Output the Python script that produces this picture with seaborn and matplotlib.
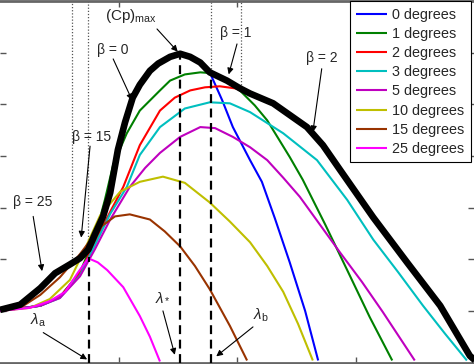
import matplotlib
matplotlib.use("Agg")
import matplotlib.pyplot as plt
import seaborn as sns
import pandas as pd

# ---------------- data (tip speed ratio lambda, power coefficient Cp) ----------------
labels = ["0 degrees", "1 degrees", "2 degrees", "3 degrees", "5 degrees",
          "10 degrees", "15 degrees", "25 degrees"]
colors = ["#0000FF", "#008000", "#FF0000", "#00BFBF", "#BF00BF",
          "#BFBF00", "#993300", "#FF00FF"]

lam_b0 = [0.00, 0.68, 1.01, 1.35, 1.60, 1.77, 1.86, 1.99, 2.11, 2.24, 2.36, 2.53, 2.67, 2.87, 3.04, 3.21,
          3.38, 3.54, 3.75, 3.93, 4.22, 4.42, 4.64, 4.89, 5.15, 5.37]
cp_b0 = [0.100, 0.110, 0.127, 0.171, 0.233, 0.292, 0.329, 0.412, 0.465, 0.513, 0.538, 0.565, 0.579, 0.592, 0.598,
         0.592, 0.581, 0.562, 0.508, 0.456, 0.392, 0.350, 0.279, 0.194, 0.100, 0.004]

lam_b1 = [0.00, 0.68, 1.01, 1.35, 1.60, 1.77, 1.91, 2.14, 2.36, 2.70, 2.87, 3.12, 3.38, 3.63, 3.88,
          4.10, 4.30, 4.51, 4.89, 5.11, 5.49, 5.86, 6.24, 6.62]
cp_b1 = [0.100, 0.110, 0.127, 0.175, 0.242, 0.315, 0.383, 0.444, 0.488, 0.527, 0.546, 0.558, 0.562, 0.560, 0.546,
         0.521, 0.498, 0.469, 0.398, 0.354, 0.267, 0.179, 0.088, 0.004]

lam_b2 = [0.00, 0.68, 1.01, 1.35, 1.60, 1.86, 2.08, 2.36, 2.70, 2.95, 3.21, 3.46, 3.71, 3.97, 4.22,
          4.61, 5.18, 5.45, 5.74, 6.30, 6.87, 7.43, 7.93, 8.10]
cp_b2 = [0.100, 0.110, 0.127, 0.173, 0.233, 0.292, 0.340, 0.421, 0.488, 0.513, 0.527, 0.533, 0.535, 0.531, 0.521,
         0.502, 0.456, 0.421, 0.373, 0.281, 0.194, 0.110, 0.013, -0.004]

lam_b3 = [0.00, 0.68, 1.01, 1.35, 1.60, 1.86, 2.14, 2.36, 2.70, 3.12, 3.54, 3.88, 4.22, 4.78, 5.35,
          5.86, 6.30, 6.72, 7.14, 7.51, 7.88]
cp_b3 = [0.100, 0.110, 0.125, 0.169, 0.227, 0.288, 0.340, 0.402, 0.456, 0.492, 0.504, 0.502, 0.485, 0.444, 0.392,
         0.315, 0.238, 0.175, 0.110, 0.056, 0.004]

lam_b5 = [0.00, 0.68, 1.01, 1.35, 1.60, 1.86, 2.19, 2.45, 2.70, 3.04, 3.38, 3.63, 3.93, 4.22, 4.51,
          4.78, 5.06, 5.40, 5.74, 6.11, 6.46, 7.00]
cp_b5 = [0.100, 0.110, 0.125, 0.167, 0.219, 0.277, 0.340, 0.377, 0.406, 0.437, 0.456, 0.454, 0.437, 0.417, 0.392,
         0.358, 0.321, 0.267, 0.213, 0.156, 0.098, 0.004]

lam_b10 = [0.00, 0.51, 0.84, 1.18, 1.43, 1.69, 2.03, 2.36, 2.75, 3.12, 3.54, 3.88, 4.22, 4.51, 4.78, 5.03, 5.28]
cp_b10 = [0.100, 0.106, 0.123, 0.160, 0.219, 0.285, 0.331, 0.350, 0.360, 0.348, 0.310, 0.273, 0.233, 0.187, 0.137,
          0.075, 0.004]

lam_b15 = [0.00, 0.34, 0.68, 1.01, 1.35, 1.69, 1.94, 2.19, 2.53, 2.78, 3.04, 3.29, 3.54, 3.88, 4.17]
cp_b15 = [0.100, 0.106, 0.131, 0.165, 0.210, 0.262, 0.283, 0.287, 0.277, 0.254, 0.225, 0.187, 0.142, 0.071, 0.004]

lam_b25 = [0.00, 0.51, 0.84, 1.10, 1.32, 1.49, 1.65, 1.81, 2.08, 2.36, 2.53, 2.70]
cp_b25 = [0.100, 0.106, 0.119, 0.137, 0.175, 0.202, 0.194, 0.179, 0.146, 0.090, 0.050, 0.002]

lam_env = [0.00, 0.34, 0.68, 0.93, 1.18, 1.35, 1.49, 1.60, 1.74, 1.86, 1.99, 2.11, 2.24, 2.36, 2.53, 2.67,
           2.87, 3.04, 3.21, 3.38, 3.54, 3.83, 4.05, 4.22, 4.61, 5.18, 5.45, 5.74, 6.30, 6.87, 7.43, 7.93, 8.10]
cp_env = [0.102, 0.112, 0.144, 0.173, 0.190, 0.202, 0.219, 0.248, 0.283, 0.329, 0.412, 0.465, 0.513, 0.538,
          0.565, 0.579, 0.592, 0.598, 0.592, 0.581, 0.562, 0.546, 0.531, 0.521, 0.502, 0.456, 0.421, 0.373,
          0.281, 0.194, 0.110, 0.013, -0.004]

# operating points: lambda_a, lambda_*, lambda_b
lam_marks = [1.50, 3.04, 3.56]
cp_marks = [0.204, 0.598, 0.562]
# thin dotted guides
lam_dots = [1.22, 1.49, 3.56, 4.07]
cp_dots = [0.190, 0.219, 0.562, 0.531]

series = [(lam_b0, cp_b0), (lam_b1, cp_b1), (lam_b2, cp_b2), (lam_b3, cp_b3),
          (lam_b5, cp_b5), (lam_b10, cp_b10), (lam_b15, cp_b15), (lam_b25, cp_b25)]

# ---------------- style ----------------
sns.set_style("white")
plt.rcParams["font.family"] = ["Liberation Sans", "DejaVu Sans"]
plt.rcParams["mathtext.fontset"] = "custom"
plt.rcParams["mathtext.rm"] = "Liberation Sans"
plt.rcParams["mathtext.it"] = "Liberation Sans:italic"
plt.rcParams["lines.solid_joinstyle"] = "round"
plt.rcParams["lines.solid_capstyle"] = "butt"

fig = plt.figure(figsize=(4.74, 3.64), dpi=100)
ax = fig.add_axes([0.0, 0.004, 1.0, 0.993])

for (xs, ys), lab, col in zip(series, labels, colors):
    df = pd.DataFrame({"lam": xs, "cp": ys})
    sns.lineplot(data=df, x="lam", y="cp", ax=ax, color=col, lw=1.5,
                 estimator=None, sort=False, label=lab, zorder=2)

env = pd.DataFrame({"lam": lam_env, "cp": cp_env})
sns.lineplot(data=env, x="lam", y="cp", ax=ax, color="black", lw=4.8,
             estimator=None, sort=False, label="_nolegend_", zorder=3)

for xv, yv in zip(lam_marks, cp_marks):
    ax.plot([xv, xv], [0, yv], color="black", lw=1.6, dashes=(4, 2.5), zorder=4)
for xv, yv in zip(lam_dots, cp_dots):
    ax.plot([xv, xv], [yv, 0.7], color="#555555", lw=0.9, ls=(0, (1, 1.5)), zorder=1)

ax.set_xlim(0, 8)
ax.set_ylim(0, 0.7)
ax.set_xticks([2, 4, 6])
ax.set_yticks([0.1, 0.2, 0.3, 0.4, 0.5, 0.6])
ax.set_xticklabels([])
ax.set_yticklabels([])
ax.set_xlabel("")
ax.set_ylabel("")
ax.tick_params(direction="in", length=4, width=1, color="#555555",
               top=True, bottom=True, left=True, right=True)
for side in ["left", "right"]:
    ax.spines[side].set_visible(False)
for side in ["top", "bottom"]:
    ax.spines[side].set_color("#666666")
    ax.spines[side].set_linewidth(2)

# ---------------- annotations ----------------
arrow = dict(arrowstyle="-|>", color="black", lw=0.8, mutation_scale=9, shrinkA=0, shrinkB=0)
notes = [
    (r"$(\mathrm{Cp})_{\mathrm{max}}$", (3.00, 0.602), (2.21, 0.671), (2.65, 0.646), 11),
    ("β = 0", (2.23, 0.508), (1.91, 0.606), (1.91, 0.588), 10),
    ("β = 1", (3.86, 0.558), (3.98, 0.638), (4.00, 0.617), 10),
    ("β = 2", (5.28, 0.446), (5.43, 0.590), (5.43, 0.569), 10),
    ("β = 15", (1.37, 0.242), (1.55, 0.437), (1.52, 0.419), 10),
    ("β = 25", (0.71, 0.177), (0.56, 0.310), (0.56, 0.283), 10),
    (r"$\lambda_\mathrm{a}$", (1.47, 0.006), (0.64, 0.081), (0.73, 0.058), 11),
    (r"$\lambda_*$", (2.95, 0.015), (2.75, 0.127), (2.75, 0.100), 11),
    (r"$\lambda_\mathrm{b}$", (3.65, 0.012), (4.41, 0.092), (4.27, 0.069), 11),
]
for txt, tip, tpos, tail, fs in notes:
    ax.text(tpos[0], tpos[1], txt, ha="center", va="center", fontsize=fs, zorder=6)
    ax.annotate("", xy=tip, xytext=tail, arrowprops=arrow, zorder=6)

leg = ax.legend(loc="upper left", bbox_to_anchor=(0.738, 1.0), borderaxespad=0,
                fontsize=10.4, handlelength=2.15, handletextpad=0.35, labelspacing=0.36,
                borderpad=0.45, fancybox=False, framealpha=1, edgecolor="black")
leg.get_frame().set_linewidth(0.8)
leg.set_zorder(7)

fig.savefig("out.png", dpi=100)
